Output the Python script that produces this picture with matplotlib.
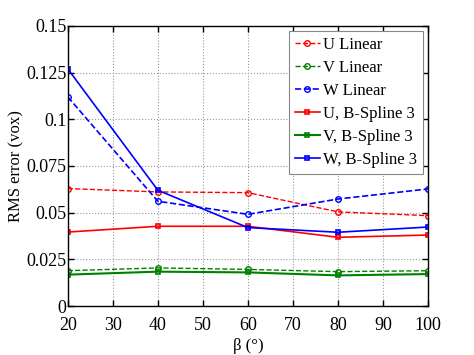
import numpy as np
import matplotlib
matplotlib.use("Agg")
import matplotlib.pyplot as plt

beta = [20, 40, 60, 80, 100]
u_linear = [0.0629, 0.0611, 0.0607, 0.0504, 0.0484]
v_linear = [0.0189, 0.0204, 0.0196, 0.0184, 0.0189]
w_linear = [0.1120, 0.0561, 0.0491, 0.0573, 0.0627]
u_bspline = [0.0396, 0.0427, 0.0427, 0.0368, 0.0380]
v_bspline = [0.0168, 0.0184, 0.0180, 0.0164, 0.0171]
w_bspline = [0.1270, 0.0620, 0.0420, 0.0395, 0.0423]

plt.rcParams['font.family'] = ['Liberation Serif', 'DejaVu Serif']

fig = plt.figure(figsize=(4.74, 3.55), dpi=100)
ax = fig.add_axes([0.143, 0.138, 0.76, 0.789])

red, green, blue = '#ff0000', '#008000', '#0000ff'
ax.plot(beta, u_linear, '--o', color=red, lw=1, ms=4, mfc='none', mew=1, label='U Linear')
ax.plot(beta, v_linear, '--o', color=green, lw=1, ms=4, mfc='none', mew=1, label='V Linear')
ax.plot(beta, w_linear, '--o', color=blue, lw=1.2, ms=4, mfc='none', mew=1, label='W Linear')
ax.plot(beta, u_bspline, '-s', color=red, lw=1.2, ms=3.5, mfc='none', mew=1.2, label='U, B-Spline 3')
ax.plot(beta, v_bspline, '-s', color=green, lw=1.5, ms=3.5, mfc='none', mew=1.2, label='V, B-Spline 3')
ax.plot(beta, w_bspline, '-s', color=blue, lw=1.2, ms=3.5, mfc='none', mew=1.2, label='W, B-Spline 3')

ax.set_xlim(20, 100)
ax.set_ylim(0, 0.15)
ax.set_xticks(np.arange(20, 101, 10))
ax.set_yticks([0, 0.025, 0.05, 0.075, 0.1, 0.125, 0.15])
ax.set_yticklabels(['0', '0.025', '0.05', '0.075', '0.1', '0.125', '0.15'])
ax.tick_params(direction='in', top=True, right=True, labelsize=13, length=4, width=1)
ax.tick_params(axis='y', pad=1)
ax.tick_params(axis='x', pad=8)
ax.grid(True, linestyle=':', color='#999999', lw=0.8)
for s in ax.spines.values():
    s.set_linewidth(1)

ax.set_xlabel('β (°)', fontsize=12, labelpad=3)
ax.set_ylabel('RMS error (vox)', fontsize=12, labelpad=1)

leg = ax.legend(loc='upper right', fontsize=12, fancybox=False, framealpha=1,
                edgecolor='#888888', handlelength=1.5, handletextpad=0.2,
                labelspacing=0.42, borderpad=0.35, borderaxespad=0.3)
leg.get_frame().set_linewidth(0.8)

fig.savefig('out.png', dpi=100)
